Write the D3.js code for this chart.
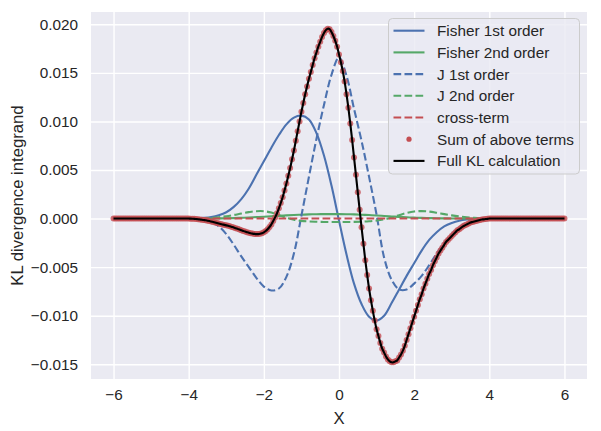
<!DOCTYPE html>
<html>
<head>
<meta charset="utf-8">
<script src="https://cdn.jsdelivr.net/npm/d3@7"></script>
<style>
  html, body { margin: 0; padding: 0; background: #ffffff; }
  svg { display: block; font-family: "Liberation Sans", Arial, sans-serif; }
</style>
</head>
<body>
<div id="chart"></div>
<script>
// ---------------- DATA ----------------
// Fine x sampling (step 0.05) used for the full KL curve and the "sum" dots
const xFine = d3.range(241).map(i => +(-6 + i * 0.05).toFixed(2));
// Coarse x sampling (step 0.2) used for the individual terms
const xCoarse = d3.range(61).map(i => +(-6 + i * 0.2).toFixed(1));

// Full KL calculation (x = -6.00 ... 6.00, step 0.05)
const fullKL = [
  0,0,0,0,0,0,0,0,0,0, 0,0,0,0,0,0,0,0,0,0,
  0,0,0,0,0,0,0,0,0,0, 0,0,0,0,0,0,0,0,0,0,
  0, -0.00001, -0.00002, -0.00003, -0.00005, -0.00007, -0.0001, -0.00012, -0.00015, -0.00018,
  -0.00022, -0.00026, -0.0003, -0.00035, -0.0004, -0.00045, -0.0005, -0.00055, -0.0006, -0.00065, -0.0007,
  -0.00075, -0.0008, -0.00086, -0.00092, -0.00099, -0.00106, -0.00113, -0.0012, -0.00127, -0.00134,
  -0.0014, -0.00146, -0.00151, -0.00155, -0.00158, -0.0016, -0.0016, -0.00157, -0.00151, -0.00142,
  -0.00128, -0.0011, -0.00087, -0.0006, -0.00025, 0.00012, 0.00055, 0.00105, 0.0016, 0.0022,
  0.0029, 0.0036, 0.0044, 0.0052, 0.0061, 0.0070, 0.0080, 0.0090, 0.0100, 0.0110,
  0.0119, 0.0128, 0.0136, 0.0144, 0.0151, 0.0158, 0.0165, 0.0171, 0.0177, 0.0182,
  0.0187, 0.0191, 0.0194, 0.01955, 0.0195, 0.0192, 0.0188, 0.0183, 0.0177, 0.0169,
  0.0161, 0.0152, 0.0141, 0.0128, 0.0114, 0.0098, 0.0081, 0.0063, 0.0045, 0.0027,
  0.0009, -0.0009, -0.0026, -0.0043, -0.0058, -0.0072, -0.0084, -0.0095, -0.0105, -0.0114,
  -0.0121, -0.0128, -0.0134, -0.0138, -0.0142, -0.0145, -0.0147, -0.0148, -0.0148, -0.0147,
  -0.0146, -0.0143, -0.0140, -0.0136, -0.0131, -0.0125, -0.0119, -0.0113, -0.0107, -0.0101,
  -0.0095, -0.0089, -0.0083, -0.0078, -0.0072, -0.0067, -0.0062, -0.0057, -0.0053, -0.0048,
  -0.0044, -0.0040, -0.0036, -0.0033, -0.0030, -0.0027, -0.0024, -0.0022, -0.0020, -0.0018,
  -0.0016, -0.0014, -0.0012, -0.0011, -0.00095, -0.0008, -0.0007, -0.0006, -0.0005, -0.0004,
  -0.00035, -0.0003, -0.00025, -0.0002, -0.00015, -0.0001, -0.00008, -0.00005, -0.00003, 0,
  0,0,0,0,0,0,0,0,0,0, 0,0,0,0,0,0,0,0,0,0,
  0,0,0,0,0,0,0,0,0,0, 0,0,0,0,0,0,0,0,0,0
];
// Sum of above terms (dots) – coincides with the full KL curve in the picture
const sumOfTerms = fullKL;

// Individual terms (x = -6.0 ... 6.0, step 0.2)
const fisher1 = [
  0,0,0,0,0,0,0,0,0,0,
  0, 0.00003, 0.00008, 0.00017, 0.00035, 0.00065, 0.0012, 0.0020, 0.0031, 0.0045,
  0.0059, 0.0073, 0.0086, 0.0097, 0.0104, 0.0106, 0.0102, 0.0088, 0.0065, 0.0034,
  -0.0002, -0.0037, -0.0067, -0.0088, -0.0101, -0.0105, -0.0100, -0.0087, -0.0073, -0.0059,
  -0.0046, -0.0033, -0.0022, -0.0014, -0.0008, -0.00045, -0.00022, -0.0001, -0.00004, -0.00001, 0,
  0,0,0,0,0,0,0,0,0,0
];
const fisher2 = [
  0,0,0,0,0,0,0,0,0,0,
  0, 0, 0.00001, 0.00001, 0.00002, 0.00003, 0.00005, 0.00008, 0.00011, 0.00015,
  0.00019, 0.00024, 0.00028, 0.00033, 0.00037, 0.0004, 0.00043, 0.00045, 0.00046, 0.00046,
  0.00046, 0.00045, 0.00043, 0.0004, 0.00036, 0.00032, 0.00027, 0.00022, 0.00017, 0.00013,
  0.0001, 0.00007, 0.00005, 0.00003, 0.00002, 0.00001, 0.00001, 0, 0, 0, 0,
  0,0,0,0,0,0,0,0,0,0
];
const j1 = [
  0,0,0,0,0,0,0,0,0,0,
  0, -0.00004, -0.00012, -0.0003, -0.0008, -0.0016, -0.0027, -0.0039, -0.0050, -0.0061,
  -0.0070, -0.0074, -0.0072, -0.0060, -0.0036, 0.0003, 0.0043, 0.0082, 0.0117, 0.0148,
  0.0166, 0.0147, 0.0113, 0.0080, 0.0043, 0.0004, -0.0040, -0.0063, -0.0073, -0.0073,
  -0.0067, -0.0059, -0.0048, -0.0036, -0.0025, -0.0016, -0.0009, -0.0004, -0.00015, -0.00005, 0,
  0,0,0,0,0,0,0,0,0,0
];
const j2 = [
  0,0,0,0,0,0,0,0,0,0,
  0, 0.00001, 0.00003, 0.00007, 0.00014, 0.00024, 0.00037, 0.00052, 0.00066, 0.00076,
  0.00076, 0.00062, 0.00035, 0.00008, -0.00012, -0.00024, -0.0003, -0.00033, -0.00035, -0.00035,
  -0.00035, -0.00035, -0.00034, -0.00032, -0.00028, -0.0002, -0.00008, 0.0001, 0.00035, 0.00058,
  0.00073, 0.00077, 0.00072, 0.0006, 0.00046, 0.00033, 0.00022, 0.00013, 0.00007, 0.00003, 0.00001,
  0,0,0,0,0,0,0,0,0,0
];
const crossTerm = [
  0,0,0,0,0,0,0,0,0,0,
  0, 0, 0, 0, 0, 0, 0, 0, 0, 0,
  0, 0, 0, 0, 0, 0, 0, 0, 0, 0,
  0, 0, 0, 0, 0, 0, 0, 0, 0, 0,
  0, 0, 0, 0, 0, 0, 0, 0, 0, 0, 0,
  0,0,0,0,0,0,0,0,0,0
];

const xTicks = [-6, -4, -2, 0, 2, 4, 6];
const yTicks = [-0.015, -0.010, -0.005, 0.000, 0.005, 0.010, 0.015, 0.020];
const legendLabels = ["Fisher 1st order", "Fisher 2nd order", "J 1st order", "J 2nd order",
                      "cross-term", "Sum of above terms", "Full KL calculation"];

// ---------------- CHART ----------------
const W = 601, H = 431;
const M = { left: 91, right: 601 - 587, top: 12, bottom: 431 - 379 };
const C = { blue: "#4c72b0", green: "#55a868", red: "#c44e52", black: "#000000",
            bg: "#eaeaf2", text: "#262626" };

const svg = d3.select("#chart").append("svg").attr("width", W).attr("height", H);

const xExt = d3.extent(xFine);
const xPad = (xExt[1] - xExt[0]) * 0.05;
const allY = [].concat(fullKL, fisher1, fisher2, j1, j2, crossTerm);
const yExt = d3.extent(allY);
const yPad = (yExt[1] - yExt[0]) * 0.05;

const x = d3.scaleLinear().domain([xExt[0] - xPad, xExt[1] + xPad]).range([M.left, W - M.right]);
const y = d3.scaleLinear().domain([yExt[0] - yPad, yExt[1] + yPad]).range([H - M.bottom, M.top]);

// background
svg.append("rect").attr("x", M.left).attr("y", M.top)
  .attr("width", W - M.left - M.right).attr("height", H - M.top - M.bottom)
  .attr("fill", C.bg);

// grid + ticks via axes
const xAxis = d3.axisBottom(x).tickValues(xTicks).tickSize(-(H - M.top - M.bottom)).tickPadding(10)
  .tickFormat(d => d3.format("d")(d).replace("-", "\u2212"));
const yAxis = d3.axisLeft(y).tickValues(yTicks).tickSize(-(W - M.left - M.right)).tickPadding(13)
  .tickFormat(d => d3.format(".3f")(d).replace("-", "\u2212"));

const gx = svg.append("g").attr("transform", `translate(0,${H - M.bottom})`).call(xAxis);
const gy = svg.append("g").attr("transform", `translate(${M.left},0)`).call(yAxis);
[gx, gy].forEach(g => {
  g.select(".domain").remove();
  g.selectAll(".tick line").attr("stroke", "#ffffff").attr("stroke-width", 1.4);
  g.selectAll(".tick text").attr("fill", C.text).style("font-size", "15.3px")
    .style("font-family", '"Liberation Sans", Arial, sans-serif');
});

// series
const lineC = (xs) => d3.line().x((d, i) => x(xs[i])).y(d => y(d)).curve(d3.curveCatmullRom.alpha(0.5));
const series = [
  { data: fisher1, xs: xCoarse, color: C.blue, dash: null },
  { data: fisher2, xs: xCoarse, color: C.green, dash: null },
  { data: j1, xs: xCoarse, color: C.blue, dash: "7.7,3.3" },
  { data: j2, xs: xCoarse, color: C.green, dash: "7.7,3.3" },
  { data: crossTerm, xs: xCoarse, color: C.red, dash: "7.7,3.3" }
];
const plot = svg.append("g");
series.forEach(s => {
  plot.append("path").datum(s.data).attr("d", lineC(s.xs))
    .attr("fill", "none").attr("stroke", s.color).attr("stroke-width", 2.1)
    .attr("stroke-dasharray", s.dash);
});

plot.append("g").selectAll("circle").data(sumOfTerms).join("circle")
  .attr("cx", (d, i) => x(xFine[i])).attr("cy", d => y(d)).attr("r", 3)
  .attr("fill", C.red).attr("fill-opacity", 0.8);

plot.append("path").datum(fullKL).attr("d", lineC(xFine))
  .attr("fill", "none").attr("stroke", C.black).attr("stroke-width", 2.1);

// axis labels
svg.append("text").attr("x", (M.left + W - M.right) / 2).attr("y", 424)
  .attr("text-anchor", "middle").attr("fill", C.text).style("font-size", "16.7px").text("X");
svg.append("text").attr("transform", `translate(23,${(M.top + H - M.bottom) / 2}) rotate(-90)`)
  .attr("text-anchor", "middle").attr("fill", C.text).style("font-size", "16.7px")
  .text("KL divergence integrand");

// legend
const lg = svg.append("g");
lg.append("rect").attr("x", 388.5).attr("y", 18.5).attr("width", 191).attr("height", 155.5)
  .attr("rx", 4).attr("fill", C.bg).attr("fill-opacity", 0.8).attr("stroke", "#cccccc").attr("stroke-width", 1);
const legendStyles = [
  { color: C.blue, dash: null, type: "line" },
  { color: C.green, dash: null, type: "line" },
  { color: C.blue, dash: "7.7,3.3", type: "line" },
  { color: C.green, dash: "7.7,3.3", type: "line" },
  { color: C.red, dash: "7.7,3.3", type: "line" },
  { color: C.red, dash: null, type: "dot" },
  { color: C.black, dash: null, type: "line" }
];
legendLabels.forEach((lab, i) => {
  const cy = 30.7 + i * 21.7;
  const st = legendStyles[i];
  if (st.type === "line") {
    lg.append("line").attr("x1", 393.5).attr("x2", 424.5).attr("y1", cy).attr("y2", cy)
      .attr("stroke", st.color).attr("stroke-width", 2.1).attr("stroke-dasharray", st.dash);
  } else {
    lg.append("circle").attr("cx", 409).attr("cy", cy).attr("r", 2.6).attr("fill", st.color);
  }
  lg.append("text").attr("x", 437).attr("y", cy + 5.4).attr("fill", C.text)
    .style("font-size", "15.3px").text(lab);
});
</script>
</body>
</html>
